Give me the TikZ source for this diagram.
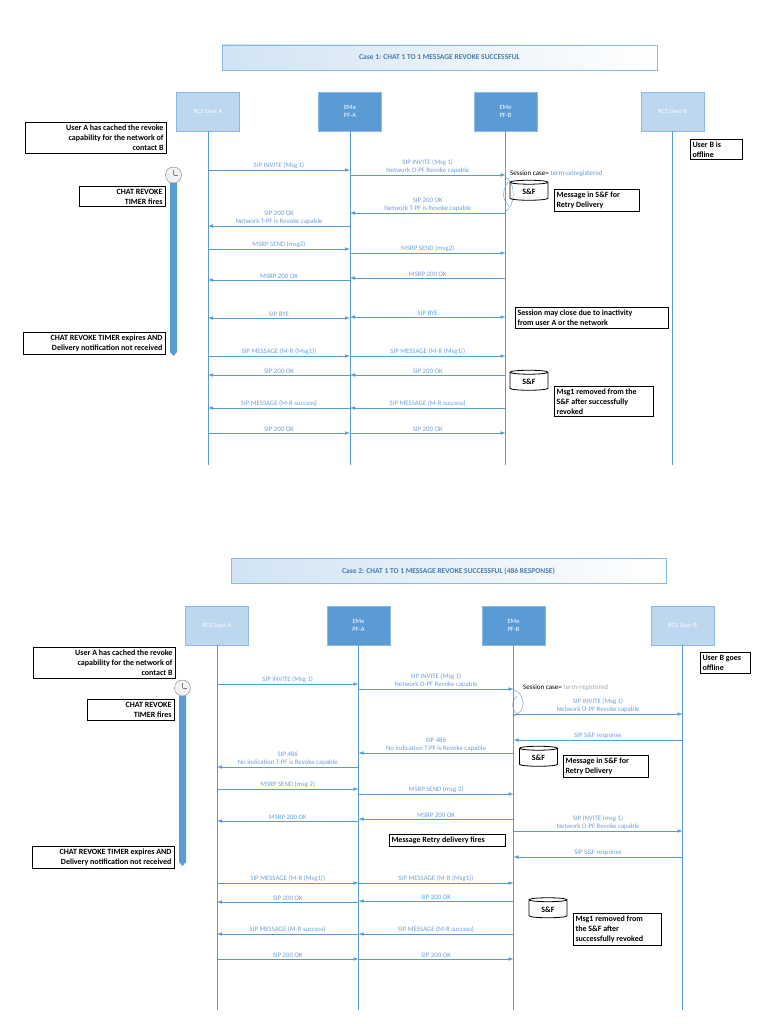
\documentclass[tikz,border=0pt]{standalone}
\usepackage{fontspec}
\setmainfont{Carlito}
\usetikzlibrary{arrows.meta,shapes.geometric}
\definecolor{seqblue}{HTML}{5B9BD5}
\definecolor{paleblue}{HTML}{BDD7EE}
\definecolor{lblblue}{HTML}{6E9FD8}
\tikzset{
    every node/.append style={font=\fontsize{6.5}{7.5}\selectfont},
    head/.style={draw=seqblue!70, minimum width=63pt, minimum height=39pt, align=center, text=white},
    life/.style={seqblue, thin},
    msg/.style={seqblue, thin, -{Latex[length=5pt,width=3.5pt]}},
    both/.style={seqblue, thin, {Latex[length=5pt,width=3.5pt]}-{Latex[length=5pt,width=3.5pt]}},
    lbl/.style={midway, above, text=lblblue, align=center, inner sep=1.5pt, font=\fontsize{6.8}{8}\selectfont},
    note/.style={draw, thick, align=flush right, font=\bfseries\fontsize{8}{10}\selectfont, inner sep=2.5pt},
    lnote/.style={note, align=flush left},
    store/.style={draw, thick, cylinder, shape border rotate=90, aspect=0.2, minimum width=38pt, minimum height=20pt, font=\bfseries\fontsize{8}{9}\selectfont},
    title/.style={draw=seqblue!70, left color=paleblue!70, right color=white, text=seqblue!80!black, font=\bfseries\fontsize{7.5}{9}\selectfont, minimum height=25pt},
}
\newcommand\sqmsg[5][msg]{\draw[#1] (#2 |- 0,#4) -- node[lbl] {#5} (#3 |- 0,#4);}

\begin{document}
\begin{tikzpicture}[x=1pt, y=-1pt]
  \useasboundingbox (0,0) rectangle (768,1024);

  % ---------- case 1 ----------
  \node[title, minimum width=435pt] (t1) at (439.5,57.5) {Case 1: CHAT 1 TO 1 MESSAGE REVOKE SUCCESSFUL};
  \node[head, fill=paleblue] (ua) at (208,111.5) {RCS User A};
  \node[head, fill=seqblue] (pa) at (350,111.5) {EMe\\PF-A};
  \node[head, fill=seqblue] (pb) at (505.5,111.5) {EMe\\PF-B};
  \node[head, fill=paleblue] (ub) at (672.5,111.5) {RCS User B};
  \foreach \h in {ua,pa,pb,ub}
    \draw[life] (\h.south) -- (\h |- 0,465);

  \node[note, text width=136pt] (cache) at (95.5,138) {User A has cached the revoke\\capability for the network of\\contact B};
  \node[lnote, text width=47pt] (off) at (716,149.5) {User B is\\offline};
  \node[note, text width=81pt] (fire) at (122,196.5) {CHAT REVOKE\\TIMER fires};
  \node[note, text width=137pt] (exp) at (94,343.5) {CHAT REVOKE TIMER expires AND\\Delivery notification not received};

  % timer
  \fill[seqblue] (170,183) rectangle (177,352) -- (173.5,356) -- (170,352);
  \node[draw=gray, fill=gray!10, circle, minimum size=16pt, inner sep=0] (clk) at (173.5,175) {};
  \draw[gray] (clk.center) -- ++(0,-5) (clk.center) -- ++(4,0);

  \sqmsg{ua}{pa}{170}{SIP INVITE (Msg 1)}
  \sqmsg{pa}{pb}{175}{SIP INVITE (Msg 1)\\Network O-PF Revoke capable}
  \node[anchor=west, inner sep=1pt, font=\fontsize{7}{8}\selectfont] (sc1) at (509,174) {Session case=\ \textcolor{seqblue}{term-unregistered}};
  \draw[seqblue] (505,176) .. controls (516,182) and (516,206) .. (505,212);
  \draw[seqblue] (508,182) .. controls (502,190) and (502,200) .. (509,206);
  \node[store] (sf1) at (529,192) {S\&F};
  \node[lnote, text width=80pt] (retry1) at (596.5,200.5) {Message in S\&F for\\Retry Delivery};
  \sqmsg{pb}{pa}{213}{SIP 200 OK\\Network T-PF is Revoke capable}
  \sqmsg{pa}{ua}{226}{SIP 200 OK\\Network T-PF is Revoke capable}
  \sqmsg{ua}{pa}{249}{MSRP SEND (msg2)}
  \sqmsg{pa}{pb}{253}{MSRP SEND (msg2)}
  \sqmsg{pb}{pa}{278}{MSRP 200 OK}
  \sqmsg{pa}{ua}{280}{MSRP 200 OK}
  \sqmsg[both]{ua}{pa}{318}{SIP BYE}
  \sqmsg[both]{pa}{pb}{317}{SIP BYE}
  \node[lnote, text width=148pt] (close1) at (591.5,318) {Session may close due to inactivity\\from user A or the network};
  \sqmsg{ua}{pa}{356}{SIP MESSAGE (M-R (Msg1))}
  \sqmsg{pa}{pb}{356}{SIP MESSAGE (M-R (Msg1))}
  \sqmsg{pa}{ua}{375}{SIP 200 OK}
  \sqmsg{pb}{pa}{375}{SIP 200 OK}
  \node[store] (sf2) at (529,382) {S\&F};
  \node[lnote, text width=94pt] (rm1) at (603.5,401.5) {Msg1 removed from the\\S\&F after successfully\\revoked};
  \sqmsg{pa}{ua}{408}{SIP MESSAGE (M-R success)}
  \sqmsg{pb}{pa}{408}{SIP MESSAGE (M-R success)}
  \sqmsg{ua}{pa}{433}{SIP 200 OK}
  \sqmsg{pa}{pb}{433}{SIP 200 OK}

  % ---------- case 2 ----------
  \node[title, minimum width=435pt] (t2) at (448.5,571) {Case 2: CHAT 1 TO 1 MESSAGE REVOKE SUCCESSFUL (486 RESPONSE)};
  \node[head, fill=paleblue] (ua2) at (217,625.5) {RCS User A};
  \node[head, fill=seqblue] (pa2) at (358.5,625.5) {EMe\\PF-A};
  \node[head, fill=seqblue] (pb2) at (513.5,625.5) {EMe\\PF-B};
  \node[head, fill=paleblue] (ub2) at (682.5,625.5) {RCS User B};
  \foreach \h in {ua2,pa2,pb2,ub2}
    \draw[life] (\h.south) -- (\h |- 0,1010);

  \node[note, text width=137pt] (cache2) at (104,663) {User A has cached the revoke\\capability for the network of\\contact B};
  \node[lnote, text width=45pt] (off2) at (725,663) {User B goes\\offline};
  \node[note, text width=82pt] (fire2) at (130.5,710) {CHAT REVOKE\\TIMER fires};
  \node[note, text width=137pt] (exp2) at (103,857) {CHAT REVOKE TIMER expires AND\\Delivery notification not received};

  % timer
  \fill[seqblue] (179,696) rectangle (186,862) -- (182.5,866) -- (179,862);
  \node[draw=gray, fill=gray!10, circle, minimum size=16pt, inner sep=0] (clk2) at (182.5,688) {};
  \draw[gray] (clk2.center) -- ++(0,-5) (clk2.center) -- ++(4,0);

  \sqmsg{ua2}{pa2}{684}{SIP INVITE (Msg 1)}
  \sqmsg{pa2}{pb2}{689}{SIP INVITE (Msg 1)\\Network O-PF Revoke capable}
  \node[anchor=west, inner sep=1pt, font=\fontsize{7}{8}\selectfont] (sc2) at (522,688) {Session case=\ \textcolor{gray!70}{term-registered}};
  \draw[seqblue] (514,690) .. controls (526,694) and (526,712) .. (514,716);
  \draw[seqblue] (517,696) .. controls (511,702) and (511,710) .. (518,714);
  \sqmsg{pb2}{ub2}{714}{SIP INVITE (Msg 1)\\Network O-PF Revoke capable}
  \sqmsg{ub2}{pb2}{740}{SIP S\&F response}
  \sqmsg{pb2}{pa2}{753}{SIP 486\\No indication T-PF is Revoke capable}
  \sqmsg{pa2}{ua2}{767}{SIP 486\\No indication T-PF is Revoke capable}
  \node[store] (sf3) at (538.5,758) {S\&F};
  \node[lnote, text width=80pt] (retry2) at (605.5,766.5) {Message in S\&F for\\Retry Delivery};
  \sqmsg{ua2}{pa2}{789}{MSRP SEND (msg 2)}
  \sqmsg{pa2}{pb2}{794}{MSRP SEND (msg 2)}
  \sqmsg{pb2}{pa2}{819}{MSRP 200 OK}
  \sqmsg{pa2}{ua2}{821}{MSRP 200 OK}
  \sqmsg{pb2}{ub2}{831}{SIP INVITE (msg 1)\\Network O-PF Revoke capable}
  \node[lnote, text width=111pt] (rfire) at (447,840.5) {Message Retry delivery fires};
  \sqmsg{ub2}{pb2}{857}{SIP S\&F response}
  \sqmsg{ua2}{pa2}{883}{SIP MESSAGE (M-R (Msg1))}
  \sqmsg{pa2}{pb2}{883}{SIP MESSAGE (M-R (Msg1))}
  \sqmsg{pa2}{ua2}{902}{SIP 200 OK}
  \sqmsg{pb2}{pa2}{901}{SIP 200 OK}
  \node[store] (sf4) at (548,909.5) {S\&F};
  \node[lnote, text width=83pt] (rm2) at (617,929) {Msg1 removed from\\the S\&F after\\successfully revoked};
  \sqmsg{pa2}{ua2}{934}{SIP MESSAGE (M-R success)}
  \sqmsg{pb2}{pa2}{934}{SIP MESSAGE (M-R success)}
  \sqmsg{ua2}{pa2}{959}{SIP 200 OK}
  \sqmsg{pa2}{pb2}{959}{SIP 200 OK}
\end{tikzpicture}
\end{document}
